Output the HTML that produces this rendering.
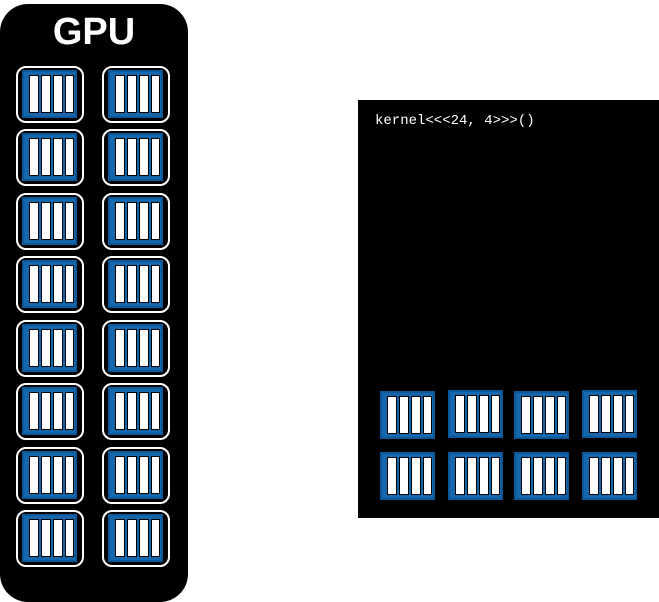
<!DOCTYPE html>
<html><head><style>body{margin:0;background:#fff}svg{display:block}</style></head>
<body>
<svg width="659" height="602" xmlns="http://www.w3.org/2000/svg">
<defs>
<g id="blk">
<rect x="0" y="0" width="55" height="48" fill="#0a5898"/>
<rect x="2" y="2" width="51" height="44" fill="#1466ad"/>
<g fill="#fff" stroke="#000" stroke-width="1">
<rect x="7.5" y="5.5" width="9" height="37"/>
<rect x="19.5" y="5.5" width="9" height="37"/>
<rect x="31.5" y="5.5" width="9" height="37"/>
<rect x="43.5" y="5.5" width="8" height="37"/>
</g>
</g>
<g id="sm">
<rect x="1" y="1" width="66" height="55" rx="9" fill="#000" stroke="#fff" stroke-width="2"/>
<use href="#blk" x="6" y="4"/>
</g>
</defs>
<rect x="0" y="4" width="188" height="598" rx="28" fill="#000"/>
<text x="94" y="44" fill="#fff" font-family="Liberation Sans, sans-serif" font-weight="bold" font-size="38" text-anchor="middle">GPU</text>
<g>
<use href="#sm" x="16" y="66"/><use href="#sm" x="102" y="66"/>
<use href="#sm" x="16" y="129"/><use href="#sm" x="102" y="129"/>
<use href="#sm" x="16" y="193"/><use href="#sm" x="102" y="193"/>
<use href="#sm" x="16" y="256"/><use href="#sm" x="102" y="256"/>
<use href="#sm" x="16" y="320"/><use href="#sm" x="102" y="320"/>
<use href="#sm" x="16" y="383"/><use href="#sm" x="102" y="383"/>
<use href="#sm" x="16" y="447"/><use href="#sm" x="102" y="447"/>
<use href="#sm" x="16" y="510"/><use href="#sm" x="102" y="510"/>
</g>
<rect x="358" y="100" width="301" height="418" fill="#000"/>
<text x="375" y="124" fill="#fff" font-family="Liberation Mono, monospace" font-size="14">kernel&lt;&lt;&lt;24, 4&gt;&gt;&gt;()</text>
<use href="#blk" x="380" y="391"/><use href="#blk" x="448" y="390"/><use href="#blk" x="514" y="391"/><use href="#blk" x="582" y="390"/>
<use href="#blk" x="380" y="452"/><use href="#blk" x="448" y="452"/><use href="#blk" x="514" y="452"/><use href="#blk" x="582" y="452"/>
</svg>
</body></html>
